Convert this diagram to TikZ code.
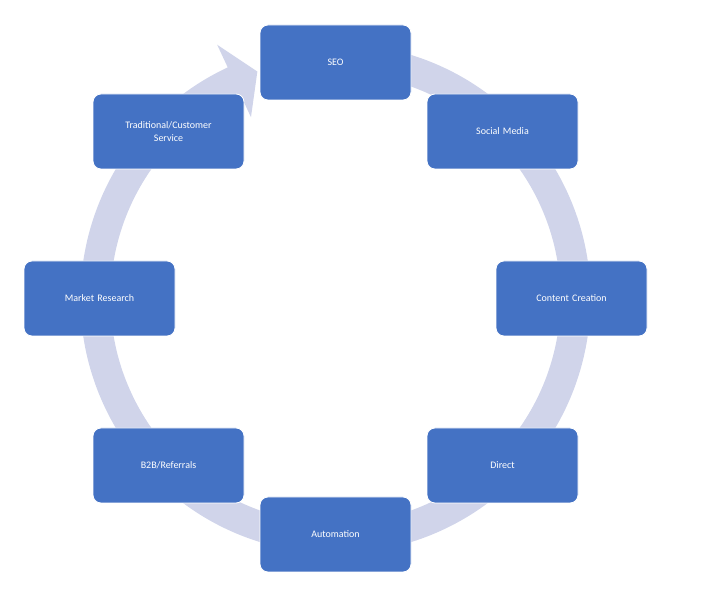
\documentclass[tikz,border=0pt]{standalone}
\usepackage{fontspec}
\setmainfont{Carlito}
\begin{document}
\begin{tikzpicture}[x=1pt,y=1pt,
  box/.style={draw=white,line width=0.8pt,fill=boxblue,rounded corners=8pt,minimum width=151pt,minimum height=75pt,text=white,align=center,text width=140pt,font=\fontsize{10}{13}\selectfont}]
\definecolor{boxblue}{RGB}{68,114,196}
\definecolor{ringc}{RGB}{208,212,234}
\useasboundingbox (0,0) rectangle (710,608);
\begin{scope}[shift={(335.5,309.5)}]
\fill[ringc] (78:255) arc[start angle=78,end angle=-245,radius=255] -- (-245:280) -- (-251:240) -- (-245:200) -- (-245:225) arc[start angle=-245,end angle=78,radius=225] -- cycle;
\end{scope}
\node[box] (seo) at (335.5,545.5) {SEO};
\node[box] (sm) at (502.5,476.5) {Social Media};
\node[box] (cc) at (571.5,309.5) {Content Creation};
\node[box] (dir) at (502.5,142.5) {Direct};
\node[box] (aut) at (335.5,73.5) {Automation};
\node[box] (b2b) at (168.5,142.5) {B2B/Referrals};
\node[box] (mr) at (99.5,309.5) {Market Research};
\node[box] (tcs) at (168.5,476.5) {Traditional/Customer\\Service};
\end{tikzpicture}
\end{document}
